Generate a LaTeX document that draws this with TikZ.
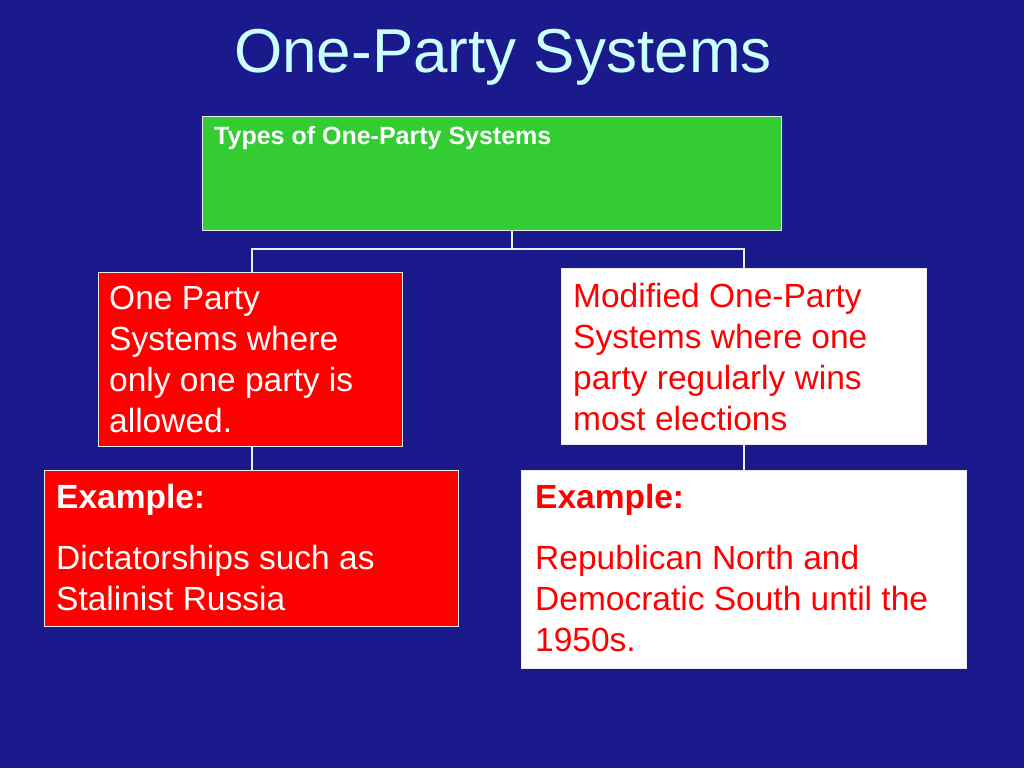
\documentclass[tikz,border=0pt]{standalone}
\usepackage{fontspec}
\setmainfont{Liberation Sans}
\begin{document}
\begin{tikzpicture}[x=1pt,y=-1pt,
  box/.style={draw=white!85!gray,line width=1.2pt,anchor=north west,inner sep=0pt},
  txt/.style={anchor=north west,align=left,inner sep=0pt,font=\fontsize{33.5}{41}\selectfont},
  conn/.style={draw=white!85!gray,line width=1.5pt}]
\definecolor{bg}{RGB}{26,26,140}
\definecolor{gr}{RGB}{51,204,51}
\definecolor{title}{RGB}{204,255,255}
\fill[bg] (0,0) rectangle (1024,768);
\useasboundingbox (0,0) rectangle (1024,768);
\node[text=title,font=\fontsize{62}{66}\selectfont] (title) at (503,57) {One-Party Systems};
\node[box,fill=gr,minimum width=579pt,minimum height=114pt] (top) at (202,116) {};
\node[txt,text=white,font=\bfseries\fontsize{25}{28}\selectfont] (toptxt) at (214,126) {Types of One-Party Systems};
\node[box,fill=red,minimum width=304pt,minimum height=174pt] (l1) at (98,272) {};
\node[txt,text=white] (l1t) at (109,286) {One Party\\Systems where\\only one party is\\allowed.};
\node[box,fill=white,minimum width=365pt,minimum height=176pt] (r1) at (561,268) {};
\node[txt,text=red] (r1t) at (573,283) {Modified One-Party\\Systems where one\\party regularly wins\\most elections};
\node[box,fill=white,minimum width=445pt,minimum height=198pt] (r2) at (521,470) {};
\node[box,fill=red,minimum width=414pt,minimum height=156pt] (l2) at (44,470) {};
\node[txt,text=white] (l2t) at (56,484) {\textbf{Example:}\\[20pt]Dictatorships such as\\Stalinist Russia};
\node[txt,text=red] (r2t) at (535,484) {\textbf{Example:}\\[20pt]Republican North and\\Democratic South until the\\1950s.};
\coordinate (j) at (512,249);
\draw[conn] (top.south -| j) -- (j);
\draw[conn] (l1.north -| 252,0) |- (j) -| (r1.north -| 744,0);
\draw[conn] (l1.south -| 252,0) -- (l2.north -| 252,0);
\draw[conn] (r1.south -| 744,0) -- (r2.north -| 744,0);
\end{tikzpicture}
\end{document}
